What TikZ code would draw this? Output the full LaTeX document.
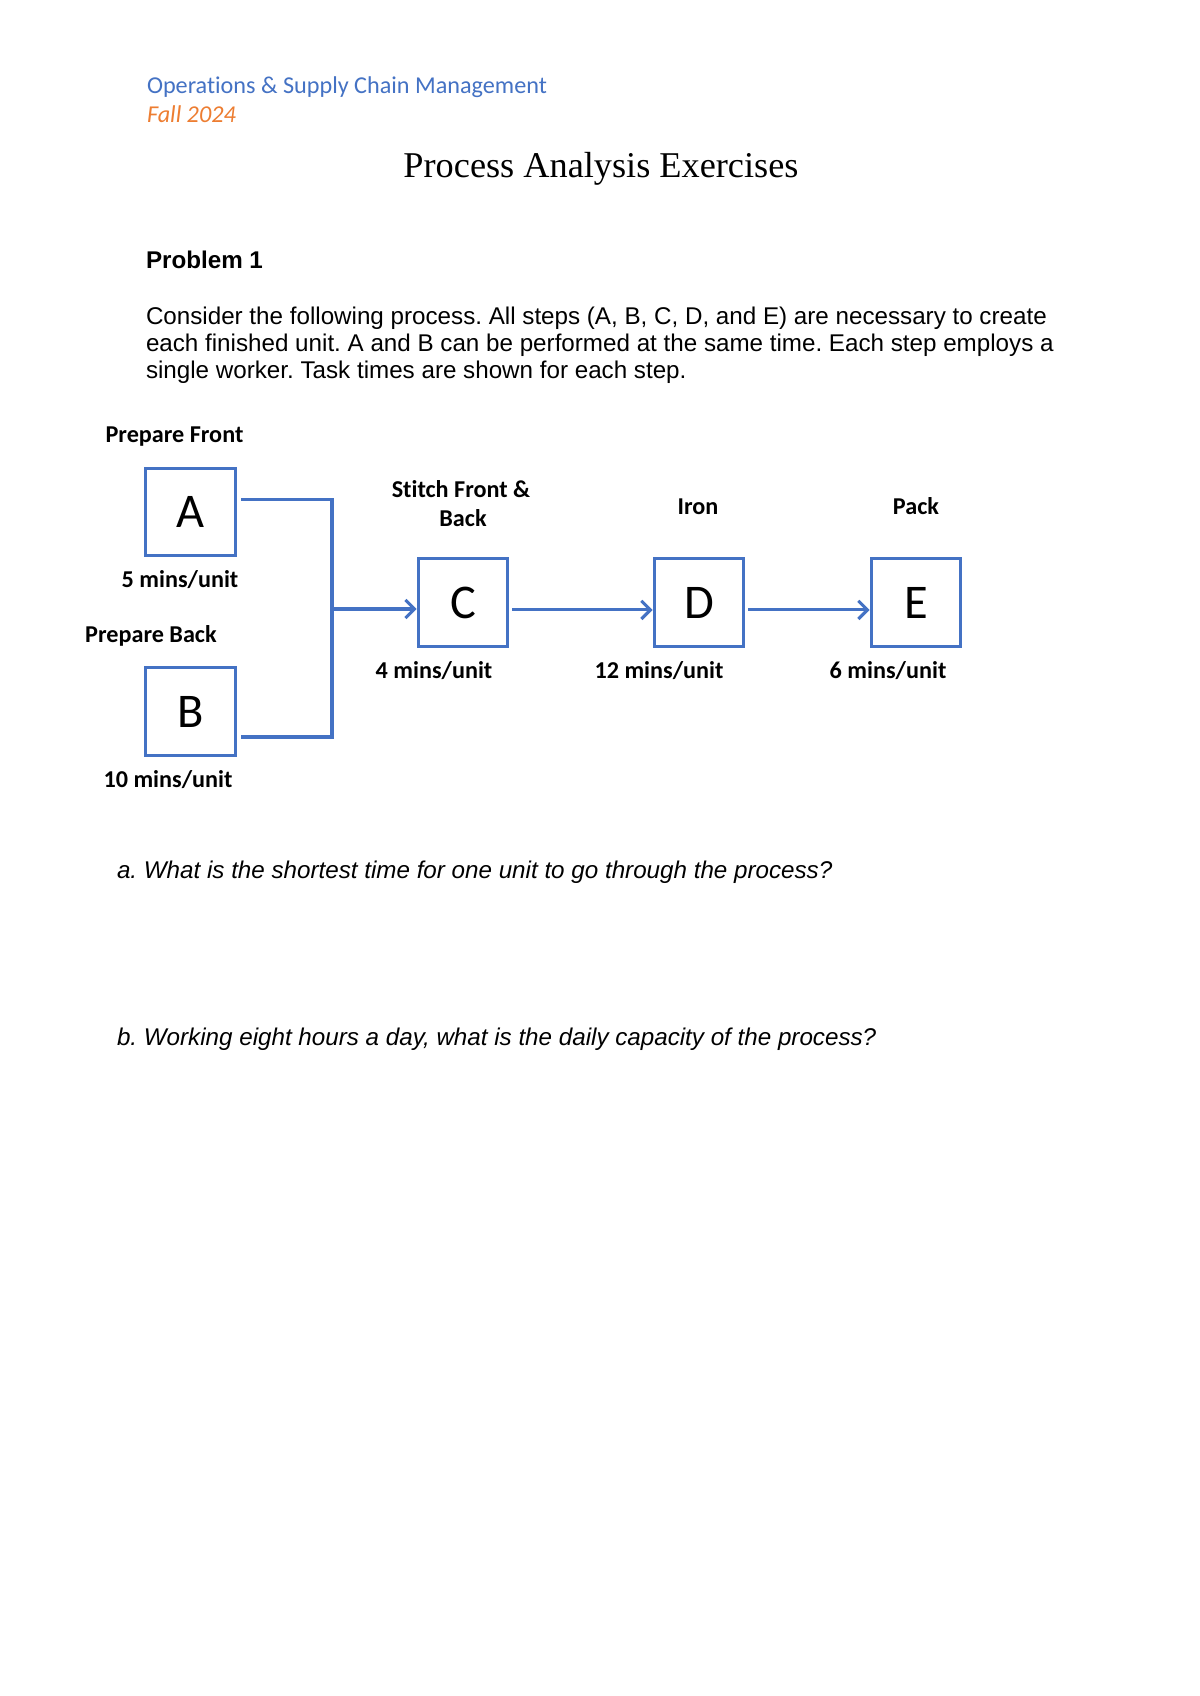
\documentclass[tikz,border=0pt]{standalone}
\usepackage{fontspec}
\usetikzlibrary{arrows.meta}
\setmainfont{Liberation Sans}
\newfontfamily\calfont[Ligatures=NoCommon]{Carlito}
\newfontfamily\arialfont{Liberation Sans}
\newfontfamily\tnrfont{Liberation Serif}
\definecolor{accblue}{HTML}{4472C4}
\definecolor{accorange}{HTML}{ED7D31}
\frenchspacing
\begin{document}
\begin{tikzpicture}[x=0.49606pt,y=-0.49606pt,
  txt/.style={inner sep=0pt, outer sep=0pt},
  lbl/.style={txt, anchor=base, font=\calfont\bfseries\fontsize{12}{14}\selectfont},
  bodyline/.style={txt, anchor=base west, font=\arialfont\fontsize{12}{14}\selectfont},
  question/.style={txt, anchor=base west, font=\arialfont\itshape\fontsize{12}{14}\selectfont},
  stepbox/.style={draw=accblue, line width=1.5pt, minimum width=44.6pt, minimum height=43.6pt, inner sep=0pt, font=\calfont\fontsize{24}{28}\selectfont},
  conn/.style={draw=accblue, line width=1.5pt},
  arr/.style={-{Straight Barb[length=4.5pt,width=9pt]}}
]
\useasboundingbox (0,0) rectangle (1200,1696);
\fill[white] (0,0) rectangle (1200,1696);

% header
\node[txt, anchor=base west, font=\calfont\fontsize{12}{14}\selectfont, text=accblue] (hdr) at (147,93) {Operations \& Supply Chain Management};
\node[txt, anchor=base west, font=\calfont\itshape\fontsize{12}{14}\selectfont, text=accorange] (term) at (147,122) {Fall 2024};
\node[txt, anchor=base, font=\tnrfont\fontsize{18}{21}\selectfont] (title) at (601,177) {Process Analysis Exercises};

% problem text
\node[txt, anchor=base west, font=\arialfont\bfseries\fontsize{12}{14}\selectfont] (prob) at (146,268) {Problem 1};
\node[bodyline] (l1) at (146,324) {Consider the following process. All steps (A, B, C, D, and E) are necessary to create};
\node[bodyline] (l2) at (146,351) {each finished unit. A and B can be performed at the same time. Each step employs a};
\node[bodyline] (l3) at (146,378) {single worker. Task times are shown for each step.};

% boxes
\node[stepbox] (A) at (190.5,512) {A};
\node[stepbox] (B) at (190.5,711.5) {B};
\node[stepbox] (C) at (463,602.5) {C};
\node[stepbox] (D) at (699,602.5) {D};
\node[stepbox] (E) at (916,602.5) {E};

% labels
\node[lbl] (pf) at (174.5,442) {Prepare Front};
\node[lbl] (ta) at (180,587) {5 mins/unit};
\node[lbl] (pb) at (151,642) {Prepare Back};
\node[lbl] (tb) at (168,787) {10 mins/unit};
\node[lbl] (sf1) at (461,497) {Stitch Front \&};
\node[lbl] (sf2) at (463,526) {Back};
\node[lbl] (tc) at (434,678) {4 mins/unit};
\node[lbl] (ir) at (698,514) {Iron};
\node[lbl] (pk) at (916,514) {Pack};
\node[lbl] (td) at (659,678) {12 mins/unit};
\node[lbl] (te) at (888,678) {6 mins/unit};

% connectors
\coordinate (J) at (332,609);
\draw[conn] ([xshift=2.2pt,yshift=6pt]A.east) -| (J);
\draw[conn] ([xshift=2.2pt,yshift=-12.65pt]B.east) -| (J);
\draw[conn,arr] (J) -- (J -| C.west);
\draw[conn,arr] ([xshift=1.5pt,yshift=-3.7pt]C.east) -- ([yshift=-3.7pt]D.west);
\draw[conn,arr] ([xshift=1.5pt,yshift=-3.7pt]D.east) -- ([yshift=-3.7pt]E.west);

% questions
\node[question] (qa) at (117,878) {a. What is the shortest time for one unit to go through the process?};
\node[question] (qb) at (117,1045) {b. Working eight hours a day, what is the daily capacity of the process?};
\end{tikzpicture}
\end{document}
